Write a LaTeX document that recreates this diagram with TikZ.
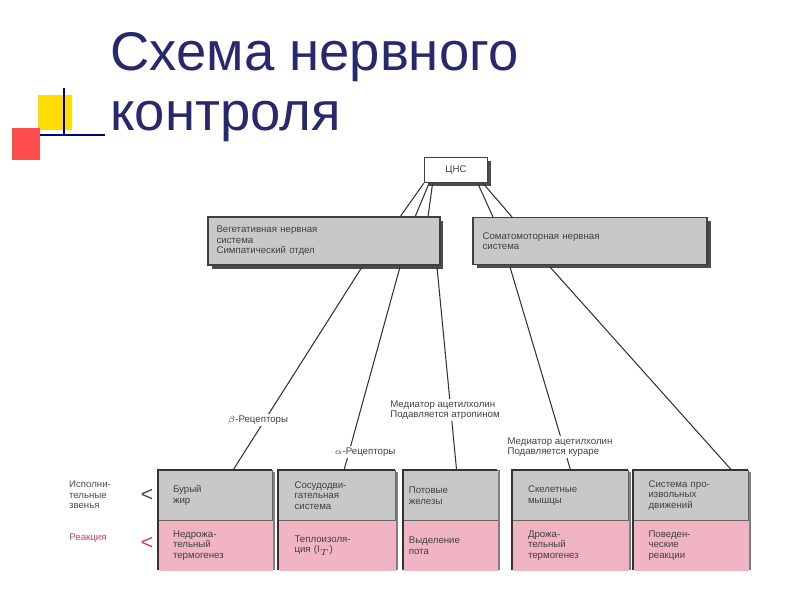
\documentclass[tikz,border=0pt]{standalone}
\usepackage{fontspec}
\setmainfont{Liberation Sans}
\usetikzlibrary{shadows}
\definecolor{titleblue}{RGB}{40,40,110}
\definecolor{cellgray}{RGB}{200,200,200}
\definecolor{cellpink}{RGB}{240,180,195}
\definecolor{reactred}{RGB}{220,60,80}

\begin{document}
\begin{tikzpicture}[x=0.02cm,y=-0.02cm,
    box/.style={draw=black!75, line width=0.8pt, fill=cellgray, inner sep=2pt,
      drop shadow={shadow xshift=2pt, shadow yshift=-2pt, fill=black!70, opacity=1},
      font=\fontsize{5.5}{6}\selectfont, text=black!75, align=left},
    cell/.style={draw=black!60, line width=0.6pt, minimum height=1cm, inner sep=3pt,
      font=\fontsize{5.5}{6}\selectfont, text=black!75, align=left, anchor=north west, text width=1.7cm},
    lbl/.style={fill=white, inner sep=1pt, font=\fontsize{5.5}{6}\selectfont, text=black!75, align=left},
    link/.style={draw=black!80, line width=0.6pt}]
  \useasboundingbox (0,0) rectangle (800,600);
  % title
  \fill[yellow!80!orange] (38,95) rectangle (72,130);
  \fill[red!70] (12,128) rectangle (40,160);
  \draw[blue!60!black, line width=1pt] (64,88) -- (64,135);
  \draw[blue!50!black, line width=1pt] (40,135) -- (105,135);
  \node[anchor=north west, text=titleblue, font=\fontsize{31}{34}\selectfont, align=left, inner sep=0pt]
    (title) at (110,32) {Схема нервного\\контроля};
  % upper boxes
  \node[box, fill=white, minimum width=1.26cm, minimum height=0.5cm, align=center] (cns) at (456,170) {ЦНС};
  \node[box, minimum width=4.64cm, minimum height=0.96cm, text width=4.3cm] (veg) at (324,241)
    {Вегетативная нервная\\система\\Симпатический отдел};
  \node[box, minimum width=4.68cm, minimum height=0.94cm, text width=4.3cm] (soma) at (590,241)
    {Соматомоторная нервная\\система};
  % bottom cells
  \foreach \x/\w/\n/\top/\bot in {158/114/c1/{Бурый\\жир}/{Недрожа-\\тельный\\термогенез},
      278/117/c2/{Сосудодви-\\гательная\\система}/{Теплоизоля-\\ция (I$_T$)},
      403/94/c3/{Потовые\\железы}/{Выделение\\пота},
      512/116/c4/{Скелетные\\мышцы}/{Дрожа-\\тельный\\термогенез},
      633/115/c5/{Система про-\\извольных\\движений}/{Поведен-\\ческие\\реакции}} {
    \node[cell, fill=cellgray, minimum width=\w*0.02cm] (\n t) at (\x,470) {\top};
    \node[cell, fill=cellpink, minimum width=\w*0.02cm, draw=none] (\n b) at (\x,520) {\bot};
    \draw[black!80, line width=1.5pt] (\x,570) -- (\x,470) -- (\x+\w,470);
    \draw[black!50, line width=1.5pt] (\x+\w+2,472) -- (\x+\w+2,570);
  }
  % connectors
  \draw[link] (cns.south west) -- (400,217);
  \draw[link] ([xshift=3pt]cns.south west) -- (415,217);
  \draw[link] ([xshift=5pt]cns.south west) -- (428,217);
  \draw[link] ([xshift=-6pt]cns.south east) -- (493,217);
  \draw[link] ([xshift=-3pt]cns.south east) -- (512,217);
  \draw[link] (362,267) -- ([xshift=10pt]c1t.north);
  \draw[link] (400,267) -- ([xshift=4pt]c2t.north);
  \draw[link] (437,267) -- ([xshift=3pt]c3t.north);
  \draw[link] (510,267) -- (c4t.north);
  \draw[link] (550,267) -- ([xshift=-10pt]c5t.north east);
  % labels on connectors
  \node[lbl] (beta) at (258,420) {$\beta$-Рецепторы};
  \node[lbl] (alpha) at (365,452) {$\alpha$-Рецепторы};
  \node[lbl] (atr) at (445,410) {Медиатор ацетилхолин\\Подавляется атропином};
  \node[lbl] (cur) at (560,447) {Медиатор ацетилхолин\\Подавляется кураре};
  % row captions
  \node[font=\fontsize{5.5}{6}\selectfont, text=black!70, align=left] (exec) at (90,495)
    {Исполни-\\тельные\\звенья};
  \node[font=\large, text=black!70] (lt1) at (147,495) {<};
  \node[font=\fontsize{5.5}{6}\selectfont, text=reactred] (react) at (88,538) {Реакция};
  \node[font=\large, text=reactred] (lt2) at (147,543) {<};
\end{tikzpicture}
\end{document}
